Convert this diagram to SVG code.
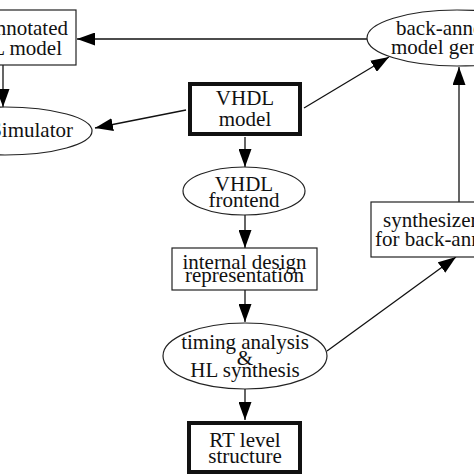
<svg xmlns="http://www.w3.org/2000/svg" width="474" height="474" viewBox="0 0 474 474">
<style>
text{font-family:"Liberation Serif","Times New Roman",serif;font-size:21px;fill:#111;}
.m{text-anchor:middle}
.s{text-anchor:start}
.e{text-anchor:end}
.n{fill:#fff;stroke:#222;stroke-width:1.2}
.t{fill:#fff;stroke:#111;stroke-width:4}
.c{fill:none;stroke:#111;stroke-width:1.3;marker-end:url(#ah)}
.g{stroke:#555;stroke-width:1.8}
</style>
<defs>
<marker id="ah" markerUnits="userSpaceOnUse" markerWidth="19" markerHeight="13" refX="18" refY="6.5" orient="auto">
<path d="M0,0 L18,6.5 L0,13 z" fill="#000"/>
</marker>
</defs>
<rect width="474" height="474" fill="#fff"/>
<g id="connectors">
<line class="c" x1="367" y1="39" x2="77" y2="39"/>
<line class="c g" x1="3" y1="65" x2="3" y2="107"/>
<line class="c" x1="186" y1="110" x2="95" y2="128"/>
<line class="c" x1="304" y1="108" x2="389" y2="57"/>
<line class="c" x1="245" y1="137" x2="245" y2="167"/>
<line class="c" x1="245" y1="215" x2="245" y2="248"/>
<line class="c" x1="245" y1="290" x2="245" y2="322"/>
<line class="c" x1="245" y1="389" x2="245" y2="420"/>
<line class="c" x1="327" y1="351" x2="456" y2="257"/>
<line class="c g" x1="459" y1="202" x2="459" y2="67"/>
</g>
<g id="annotated-model">
<rect class="n" x="-10" y="10" width="86" height="55"/>
<text class="e" x="68" y="35">annotated</text>
<text class="e" x="62" y="55">VHDL model</text>
</g>
<g id="simulator">
<ellipse class="n" cx="5" cy="131" rx="87" ry="24"/>
<text class="e" x="73" y="137">Simulator</text>
</g>
<g id="vhdl-model">
<rect class="t" x="190" y="84" width="110" height="50"/>
<text class="m" x="245" y="105">VHDL</text>
<text class="m" x="245" y="126">model</text>
</g>
<g id="back-annotated-model-generator">
<ellipse class="n" cx="457" cy="38" rx="90" ry="28"/>
<text class="s" x="396" y="35">back-annotated</text>
<text class="s" x="391" y="54">model generator</text>
</g>
<g id="vhdl-frontend">
<ellipse class="n" cx="244" cy="191" rx="61" ry="24"/>
<text class="m" x="244" y="191">VHDL</text>
<text class="m" x="244" y="207">frontend</text>
</g>
<g id="internal-design">
<rect class="n" x="172" y="248" width="145" height="42"/>
<text class="m" x="244.5" y="269">internal design</text>
<text class="m" x="244.5" y="282">representation</text>
</g>
<g id="timing-analysis">
<ellipse class="n" cx="245" cy="356" rx="82" ry="33"/>
<text class="m" x="245" y="349">timing analysis</text>
<text class="m" x="245" y="365">&amp;</text>
<text class="m" x="245" y="377">HL synthesis</text>
</g>
<g id="rt-level">
<rect class="t" x="189" y="423" width="111" height="49"/>
<text class="m" x="245" y="447">RT level</text>
<text class="m" x="245" y="463">structure</text>
</g>
<g id="synthesizer">
<rect class="n" x="371" y="202" width="176" height="55"/>
<text class="s" x="383" y="227">synthesizer</text>
<text class="s" x="375" y="246">for back-annotation</text>
</g>
</svg>
